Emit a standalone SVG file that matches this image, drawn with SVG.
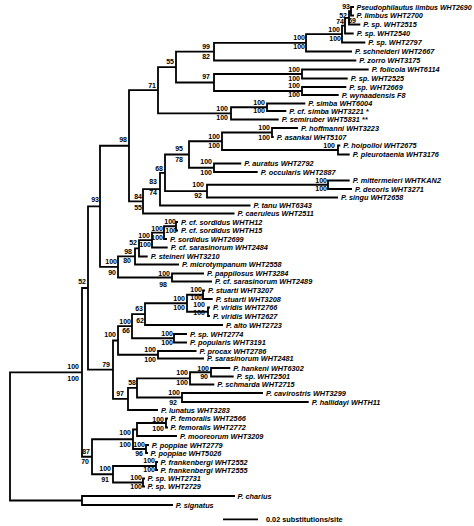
<svg xmlns="http://www.w3.org/2000/svg" width="474" height="526" viewBox="0 0 474 526">
<style>
.b{stroke:#000;stroke-width:1.8;fill:none;stroke-linejoin:miter}
.t{font-family:"Liberation Sans",Arial,sans-serif;font-size:7.3px;font-weight:bold;font-style:italic;fill:#000}
.n{font-family:"Liberation Sans",Arial,sans-serif;font-size:7px;font-weight:bold;fill:#000;text-anchor:end}
.s{font-family:"Liberation Sans",Arial,sans-serif;font-size:7.3px;font-weight:bold;fill:#000}
</style>
<rect width="474" height="526" fill="#fff"/>
<g id="branches" class="b">
<path d="M354 7H351V15.5H354"/>
<path d="M351 11.25H349V24.5H360.3"/>
<path d="M349 17.9H345V33.5H353.7"/>
<path d="M345 25.7H342V42.5H365.3"/>
<path d="M342 34.1H306V51.5H352"/>
<path d="M306 42.8H214V60.5H356.3"/>
<path d="M368.7 69.5H302V78.5H347.7"/>
<path d="M346.3 87H302V95H338.7"/>
<path d="M302 74H214V91H302"/>
<path d="M214 51.65H176V82.5H214"/>
<path d="M305.3 103.5H267V111H286.3"/>
<path d="M267 107.25H231V119.5H278.7"/>
<path d="M176 67.1H158V113.4H231"/>
<path d="M298 128H272V137H273.7"/>
<path d="M340.3 145.5H338V154.5H349.7"/>
<path d="M272 132.5H222V150H338"/>
<path d="M241.3 163.5H214V172H257.7"/>
<path d="M222 141.25H189V167.75H214"/>
<path d="M349.7 180.5H328V189H352"/>
<path d="M328 184.75H207V197.5H338"/>
<path d="M189 154.5H165V191.1H207"/>
<path d="M165 172.8H160V205.5H250.5"/>
<path d="M160 189.15H143V213.5H234.5"/>
<path d="M158 90.2H129V201.3H143"/>
<path d="M178 222H176V230.5H178"/>
<path d="M176 226.25H164V239H167"/>
<path d="M164 232.6H152V247.5H167.7"/>
<path d="M152 240.05H139V256.5H147.7"/>
<path d="M139 248.3H135V264.5H179"/>
<path d="M204 273.5H172V281.5H212"/>
<path d="M135 256.4H118V277.5H172"/>
<path d="M129 145.75H100V266.95H118"/>
<path d="M205 290.5H203V299H212.7"/>
<path d="M210 307.5H208V316H210"/>
<path d="M203 294.75H187V311.75H208"/>
<path d="M187 303.25H145V325H223"/>
<path d="M187 334H174V342.5H187"/>
<path d="M145 314.1H132V338.25H174"/>
<path d="M196.5 351H158V358.5H204"/>
<path d="M132 326.2H118V354.75H158"/>
<path d="M230.3 368H211V376.5H233.7"/>
<path d="M211 372.25H190V384.5H214.3"/>
<path d="M263 393H182V402H308.7"/>
<path d="M190 378.4H137V397.5H182"/>
<path d="M137 387.95H128V410H158"/>
<path d="M118 340.5H113V398.97H128"/>
<path d="M100 206.35H88V369.7H113"/>
<path d="M168 418.5H166V427.5H168"/>
<path d="M166 423H137V436H177"/>
<path d="M149 445H146V453H148"/>
<path d="M137 429.5H133V449H146"/>
<path d="M158 462H156V470H158"/>
<path d="M145 478.5H143V486.5H145"/>
<path d="M156 466H113V482.5H143"/>
<path d="M133 439.25H92V474.25H113"/>
<path d="M88 288H82V456.75H92"/>
<path d="M235 496H82V505H173"/>
<path d="M82 372.4H10V500.5H82"/>
</g>
<g id="leaves" class="t">
<g id="leaf-01"><text x="356.5" y="9.6" style="font-size:7.05px">Pseudophilautus limbus WHT2690</text></g>
<g id="leaf-02"><text x="356.5" y="18.1">P. limbus WHT2700</text></g>
<g id="leaf-03"><text x="363.3" y="27.1">P. sp. WHT2515</text></g>
<g id="leaf-04"><text x="356.7" y="36.1">P. sp. WHT2540</text></g>
<g id="leaf-05"><text x="368.3" y="45.1">P. sp. WHT2797</text></g>
<g id="leaf-06"><text x="355" y="54.1">P. schneideri WHT2667</text></g>
<g id="leaf-07"><text x="359.3" y="63.1">P. zorro WHT3175</text></g>
<g id="leaf-08"><text x="371.7" y="72.1">P. folicola WHT6114</text></g>
<g id="leaf-09"><text x="350.7" y="81.1">P. sp. WHT2525</text></g>
<g id="leaf-10"><text x="349.3" y="89.6">P. sp. WHT2669</text></g>
<g id="leaf-11"><text x="341.7" y="97.6">P. wynaadensis F8</text></g>
<g id="leaf-12"><text x="308.3" y="106.1">P. simba WHT6004</text></g>
<g id="leaf-13"><text x="289.3" y="113.6">P. cf. simba WHT3221 *</text></g>
<g id="leaf-14"><text x="281.7" y="122.1">P. semiruber WHT5831 **</text></g>
<g id="leaf-15"><text x="301" y="130.6">P. hoffmanni WHT3223</text></g>
<g id="leaf-16"><text x="276.7" y="139.6">P. asankai WHT5107</text></g>
<g id="leaf-17"><text x="343.3" y="148.1">P. hoipolloi WHT2675</text></g>
<g id="leaf-18"><text x="352.7" y="157.1">P. pleurotaenia WHT3176</text></g>
<g id="leaf-19"><text x="244.3" y="166.1">P. auratus WHT2792</text></g>
<g id="leaf-20"><text x="260.7" y="174.6">P. occularis WHT2887</text></g>
<g id="leaf-21"><text x="352.7" y="183.1">P. mittermeieri WHTKAN2</text></g>
<g id="leaf-22"><text x="355" y="191.6">P. decoris WHT3271</text></g>
<g id="leaf-23"><text x="341" y="200.1">P. singu WHT2658</text></g>
<g id="leaf-24"><text x="253.5" y="208.1">P. tanu WHT6343</text></g>
<g id="leaf-25"><text x="237.5" y="216.1">P. caeruleus WHT2511</text></g>
<g id="leaf-26"><text x="181" y="224.6">P. cf. sordidus WHTH12</text></g>
<g id="leaf-27"><text x="181" y="233.1">P. cf. sordidus WHTH15</text></g>
<g id="leaf-28"><text x="170" y="241.6">P. sordidus WHT2699</text></g>
<g id="leaf-29"><text x="170.7" y="250.1">P. cf. sarasinorum WHT2484</text></g>
<g id="leaf-30"><text x="150.7" y="259.1">P. steineri WHT3210</text></g>
<g id="leaf-31"><text x="182" y="267.1">P. microtympanum WHT2558</text></g>
<g id="leaf-32"><text x="207" y="276.1">P. pappilosus WHT3284</text></g>
<g id="leaf-33"><text x="215" y="284.1">P. cf. sarasinorum WHT2489</text></g>
<g id="leaf-34"><text x="208" y="293.1">P. stuarti WHT3207</text></g>
<g id="leaf-35"><text x="215.7" y="301.6">P. stuarti WHT3208</text></g>
<g id="leaf-36"><text x="213" y="310.1">P. viridis WHT2766</text></g>
<g id="leaf-37"><text x="213" y="318.6">P. viridis WHT2627</text></g>
<g id="leaf-38"><text x="226" y="327.6">P. alto WHT2723</text></g>
<g id="leaf-39"><text x="190" y="336.6">P. sp. WHT2774</text></g>
<g id="leaf-40"><text x="190" y="345.1">P. popularis WHT3191</text></g>
<g id="leaf-41"><text x="199.5" y="353.6">P. procax WHT2786</text></g>
<g id="leaf-42"><text x="207" y="361.1">P. sarasinorum WHT2481</text></g>
<g id="leaf-43"><text x="233.3" y="370.6">P. hankeni WHT6302</text></g>
<g id="leaf-44"><text x="236.7" y="379.1">P. sp. WHT2501</text></g>
<g id="leaf-45"><text x="217.3" y="387.1">P. schmarda WHT2715</text></g>
<g id="leaf-46"><text x="266" y="395.6">P. cavirostris WHT3299</text></g>
<g id="leaf-47"><text x="311.7" y="404.6">P. hallidayi WHTH11</text></g>
<g id="leaf-48"><text x="161" y="412.6">P. lunatus WHT3283</text></g>
<g id="leaf-49"><text x="170.5" y="421.1">P. femoralis WHT2566</text></g>
<g id="leaf-50"><text x="170.5" y="430.1">P. femoralis WHT2772</text></g>
<g id="leaf-51"><text x="180" y="438.6">P. mooreorum WHT3209</text></g>
<g id="leaf-52"><text x="151.7" y="447.6">P. poppiae WHT2779</text></g>
<g id="leaf-53"><text x="150.5" y="455.6">P. poppiae WHT5026</text></g>
<g id="leaf-54"><text x="160.5" y="464.6">P. frankenbergi WHT2552</text></g>
<g id="leaf-55"><text x="160.5" y="472.6">P. frankenbergi WHT2555</text></g>
<g id="leaf-56"><text x="147.5" y="481.1">P. sp. WHT2731</text></g>
<g id="leaf-57"><text x="147.5" y="489.1">P. sp. WHT2729</text></g>
<g id="leaf-58"><text x="237.5" y="498.6">P. charius</text></g>
<g id="leaf-59"><text x="175.7" y="507.6">P. signatus</text></g>
</g>
<g id="support" class="n">
<g id="node-limbus"><text x="350" y="8.6">93</text><text x="347" y="17.9">52</text></g>
<g id="node-2515"><text x="344" y="23.8">74</text><text x="356" y="23.2">69</text></g>
<g id="node-2797"><text x="340" y="31.9">100</text><text x="341" y="40.9">100</text></g>
<g id="node-schneideri"><text x="305" y="40.3">100</text><text x="305" y="49.3">100</text></g>
<g id="node-zorro"><text x="210" y="48.9">99</text><text x="210" y="58.6">82</text></g>
<g id="node-55a"><text x="174" y="63.6">55</text></g>
<g id="node-71"><text x="156" y="87.6">71</text></g>
<g id="node-folicola"><text x="300" y="71.7">100</text><text x="300" y="80.6">100</text></g>
<g id="node-97a"><text x="210" y="78.6">97</text></g>
<g id="node-wynaadensis"><text x="300" y="87.7">100</text><text x="300" y="96.8">100</text></g>
<g id="node-simba"><text x="265" y="104.9">100</text><text x="265" y="112.6">100</text></g>
<g id="node-semiruber"><text x="228" y="110.9">100</text><text x="228" y="120.3">100</text></g>
<g id="node-98a"><text x="127" y="141.6">98</text></g>
<g id="node-hoffmanni"><text x="270" y="130.3">100</text><text x="270" y="139.9">100</text></g>
<g id="node-hoipolloi-group"><text x="220" y="139.3">100</text><text x="220" y="148.3">100</text></g>
<g id="node-hoipolloi"><text x="335" y="147.9">100</text></g>
<g id="node-95"><text x="183" y="150.9">95</text><text x="183" y="161.9">78</text></g>
<g id="node-auratus"><text x="212" y="164.3">100</text><text x="212" y="174.9">100</text></g>
<g id="node-68"><text x="163" y="170.6">68</text></g>
<g id="node-mittermeieri"><text x="327" y="182.6">100</text><text x="327" y="190.9">100</text></g>
<g id="node-singu"><text x="204" y="186.9">100</text><text x="202" y="197.6">92</text></g>
<g id="node-83"><text x="157" y="184.3">83</text><text x="157" y="195.3">74</text></g>
<g id="node-84"><text x="142" y="199.3">84</text><text x="142" y="209.6">55</text></g>
<g id="node-93"><text x="99" y="201.6">93</text></g>
<g id="node-sordidus"><text x="176" y="223.6">100</text><text x="177" y="233.1">100</text><text x="163" y="230.6">100</text><text x="163" y="239.6">100</text><text x="150" y="238.1">100</text><text x="151" y="247.1">100</text><text x="137" y="245.3">52</text><text x="132" y="253.6">98</text><text x="131" y="263.3">80</text></g>
<g id="node-100-90"><text x="117" y="263.6">100</text><text x="116" y="275.1">90</text></g>
<g id="node-pappilosus"><text x="170" y="275.9">100</text><text x="167" y="286.6">98</text></g>
<g id="node-52"><text x="86" y="283.6">52</text></g>
<g id="node-stuarti"><text x="202" y="291.9">100</text><text x="202" y="299.8">100</text></g>
<g id="node-stuarti-viridis"><text x="185" y="300.9">100</text><text x="185" y="309.9">100</text></g>
<g id="node-viridis"><text x="205" y="306.6">100</text><text x="205" y="314.8">100</text></g>
<g id="node-63"><text x="143" y="310.6">63</text><text x="144" y="322.6">62</text></g>
<g id="node-66"><text x="131" y="324.1">100</text><text x="130" y="333.1">66</text></g>
<g id="node-100c"><text x="116" y="336.6">100</text></g>
<g id="node-popularis"><text x="173" y="335.9">100</text><text x="173" y="344.9">100</text></g>
<g id="node-procax"><text x="156" y="351.9">100</text><text x="156" y="361.9">100</text></g>
<g id="node-79"><text x="110" y="366.6">79</text></g>
<g id="node-ingroup"><text x="79" y="369.3">100</text><text x="79" y="380.9">100</text></g>
<g id="node-schmarda"><text x="188" y="374.9">100</text><text x="188" y="385.3">100</text></g>
<g id="node-hankeni"><text x="209" y="370.6">100</text><text x="208" y="379.3">90</text></g>
<g id="node-58"><text x="136" y="385.3">58</text></g>
<g id="node-97b"><text x="124" y="395.9">97</text></g>
<g id="node-hallidayi"><text x="180" y="395.3">100</text><text x="177" y="404.9">92</text></g>
<g id="node-femoralis"><text x="164" y="421.9">100</text><text x="164" y="430.9">100</text></g>
<g id="node-mooreorum"><text x="131" y="435.3">100</text><text x="131" y="446.6">100</text></g>
<g id="node-poppiae"><text x="145" y="446.6">100</text><text x="143" y="455.9">96</text></g>
<g id="node-87"><text x="90" y="453.6">87</text><text x="89" y="464.3">70</text></g>
<g id="node-frankenbergi"><text x="155" y="462.6">100</text><text x="155" y="471.9">100</text></g>
<g id="node-91"><text x="111" y="470.9">100</text><text x="109" y="481.9">91</text></g>
<g id="node-sp2731"><text x="142" y="480.3">100</text><text x="142" y="489.3">100</text></g>
</g>
<g id="scale">
<path class="b" d="M223 519.3H258"/>
<text class="s" x="266" y="521.9">0.02 substitutions/site</text>
</g>
</svg>
